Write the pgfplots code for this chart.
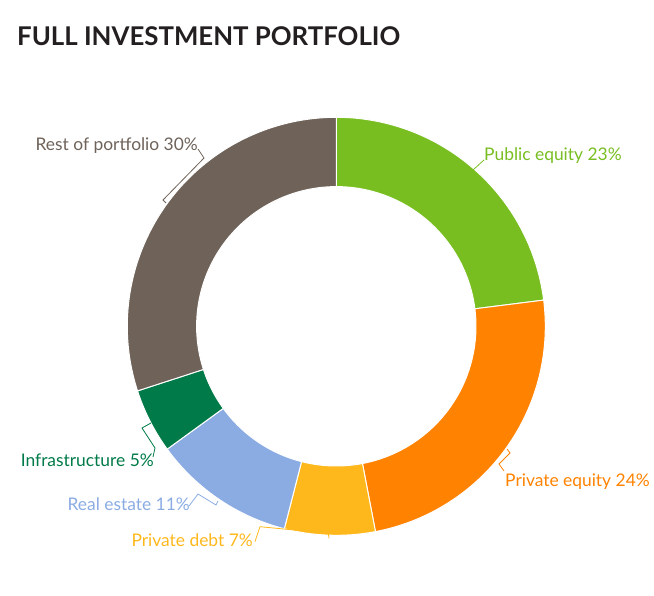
\documentclass[border=0pt]{standalone}
\usepackage{pgfplots}
\pgfplotsset{compat=1.18}
\usepackage{fontspec}
\setmainfont{Lato}
\definecolor{cPub}{HTML}{78BE20}
\definecolor{cPeq}{HTML}{FF8200}
\definecolor{cDebt}{HTML}{FFB81C}
\definecolor{cReal}{HTML}{8BACE3}
\definecolor{cInf}{HTML}{007A48}
\definecolor{cRest}{HTML}{6E6259}
\definecolor{cTitle}{HTML}{231F20}
% slice: #1 cumulative start (%), #2 cumulative end (%), #3 colour
\newcommand{\slice}[3]{%
\addplot[fill=#3, draw=white, line width=1pt, samples at={0,1,...,100,200,201,...,300}, variable=\t]
 ({336.3 + ((\t<150) ? 209 : 139.7)*cos(((\t<150) ? (90-3.6*(#1+(#2-#1)*\t/100)) : (90-3.6*(#2+(#1-#2)*(\t-200)/100))))},
  {326.3 - ((\t<150) ? 209 : 139.7)*sin(((\t<150) ? (90-3.6*(#1+(#2-#1)*\t/100)) : (90-3.6*(#2+(#1-#2)*(\t-200)/100))))}) -- cycle;
}
\begin{document}
\begin{tikzpicture}
\begin{axis}[x=1pt, y=1pt, y dir=reverse, xmin=0, xmax=654, ymin=0, ymax=596,
  hide axis, clip=false, axis line style={draw=none}]
\path (axis cs:0,0) rectangle (axis cs:654,596);
% cumulative shares: 23, 24, 7, 11, 5, 30
\slice{0}{23}{cPub}
\slice{23}{47}{cPeq}
\slice{47}{54}{cDebt}
\slice{54}{65}{cReal}
\slice{65}{70}{cInf}
\slice{70}{100}{cRest}
% leader lines
\addplot[cPub, line width=0.8pt, mark=none] coordinates {(473,170) (484,160)};
\addplot[cPeq, line width=0.8pt, mark=none] coordinates {(507,449) (510,453) (499,464) (504,471)};
\addplot[cDebt, line width=0.8pt, mark=none] coordinates {(255,541.7) (260,526.7) (328.3,533.3) (329,538.3)};
\addplot[cReal, line width=0.8pt, mark=none] coordinates {(189,506) (198,494) (216,505) (218,501)};
\addplot[cInf, line width=0.8pt, mark=none] coordinates {(153,457) (155,448) (142,428) (151,423)};
\addplot[cRest, line width=0.8pt, mark=none] coordinates {(198,149) (204,158) (163,200) (166,203)};
% labels
\node[anchor=base west, inner sep=0pt, text=cTitle, font=\fontsize{25.8}{29}\selectfont\bfseries] at (axis cs:17,46) {FULL INVESTMENT PORTFOLIO};
\node[anchor=base west, inner sep=0pt, text=cPub, font=\fontsize{17.4}{20}\selectfont] at (axis cs:484,160.5) {Public equity 23\%};
\node[anchor=base east, inner sep=0pt, text=cRest, font=\fontsize{17.4}{20}\selectfont] at (axis cs:198,151) {Rest of portfolio 30\%};
\node[anchor=base west, inner sep=0pt, text=cPeq, font=\fontsize{17.4}{20}\selectfont] at (axis cs:505,486.7) {Private equity 24\%};
\node[anchor=base east, inner sep=0pt, text=cDebt, font=\fontsize{17.4}{20}\selectfont] at (axis cs:253,546.7) {Private debt 7\%};
\node[anchor=base east, inner sep=0pt, text=cReal, font=\fontsize{17.4}{20}\selectfont] at (axis cs:190,510) {Real estate 11\%};
\node[anchor=base east, inner sep=0pt, text=cInf, font=\fontsize{17.4}{20}\selectfont] at (axis cs:154,466.7) {Infrastructure 5\%};
\end{axis}
\end{tikzpicture}
\end{document}
